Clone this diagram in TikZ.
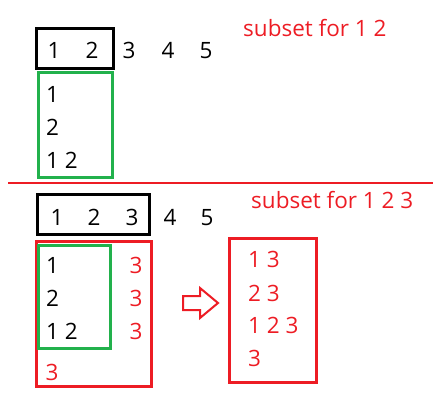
\documentclass[tikz,border=0pt]{standalone}
\usepackage{fontspec}
\setmainfont{Open Sans}
\definecolor{pred}{RGB}{237,28,36}
\definecolor{pgreen}{RGB}{34,177,76}
\tikzset{
  num/.style={anchor=base, inner sep=0pt},
  row/.style={anchor=base west, inner sep=0pt},
  blackbox/.style={draw=black, line width=3pt},
  greenbox/.style={draw=pgreen, line width=3pt},
  redbox/.style={draw=pred, line width=3pt}
}
\begin{document}
\begin{tikzpicture}[x=1pt, y=-1pt, font=\fontsize{22.5}{27}\selectfont, line join=miter]
\useasboundingbox (0,0) rectangle (434,402);
% subset for 1 2
\node[row, text=pred] (title1) at (243,36) {subset for 1 2};
\draw[blackbox] (36,28) rectangle (113,68);
\foreach \x/\n in {54/1, 92/2, 129/3, 168/4, 206/5}
  \node[num] (t\n) at (\x,58) {\n};
\draw[greenbox] (38,72) rectangle (112,177);
\foreach \y/\s/\n in {102/1/a, 135/2/b, 168/1 2/c}
  \node[row] (g\n) at (46,\y) {\s};
% separator
\draw[pred, line width=1.2pt] (8,183) -- (433,183);
% subset for 1 2 3
\node[row, text=pred] (title2) at (251,208) {subset for 1 2 3};
\draw[blackbox] (37,194) rectangle (149,234);
\foreach \x/\n in {57/1, 94/2, 132/3, 170/4, 207/5}
  \node[num] (b\n) at (\x,225) {\n};
\draw[redbox] (36,241) rectangle (151,386);
\draw[greenbox] (38,245) rectangle (110,348);
\foreach \y/\s/\n in {273/1/a, 306/2/b, 339/1 2/c} {
  \node[row] (l\n) at (46,\y) {\s};
  \node[num, text=pred] (r\n) at (136,\y) {3};
}
\node[num, text=pred] (last) at (52,380) {3};
% arrow
\draw[pred, line width=2pt] (183,296) -- (200,296) -- (200,288) -- (218,303)
  -- (200,318) -- (200,310) -- (183,310) -- cycle;
\draw[redbox] (229,238) rectangle (316,382);
\foreach \y/\s/\n in {267/1 3/a, 301/2 3/b, 333/1 2 3/c, 366/3/d}
  \node[row, text=pred] (s\n) at (248,\y) {\s};
\end{tikzpicture}
\end{document}
